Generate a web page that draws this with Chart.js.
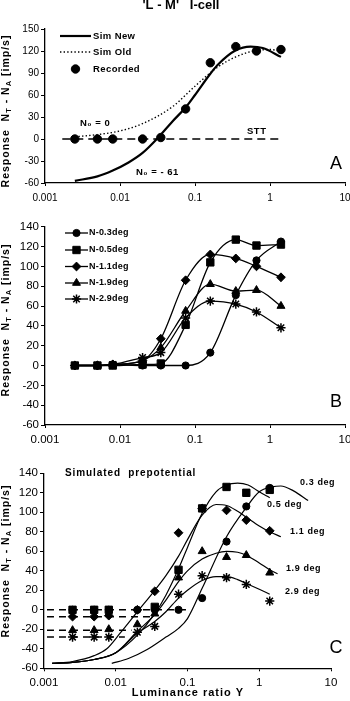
<!DOCTYPE html>
<html>
<head>
<meta charset="utf-8">
<script src="https://cdn.jsdelivr.net/npm/chart.js@4.4.0/dist/chart.umd.min.js"></script>
<style>
    html, body { margin: 0; padding: 0; background: #fff; width: 350px; height: 701px; overflow: hidden; position: relative; }
    canvas { position: absolute; left: 0; }
</style>
</head>
<body>
<canvas id="chartA"></canvas>
<canvas id="chartB"></canvas>
<canvas id="chartC"></canvas>
<script>
// luminance ratios used for the recorded points (all panels)
const lum = [0.0025, 0.005, 0.008, 0.02, 0.035, 0.075, 0.16, 0.35, 0.66, 1.4];
const xTicks = [0.001, 0.01, 0.1, 1, 10];
const xTickLabels = ['0.001', '0.01', '0.1', '1', '10'];
const yTicksA = [-60, -30, 0, 30, 60, 90, 120, 150];
const yTicksBC = [-60, -40, -20, 0, 20, 40, 60, 80, 100, 120, 140];

// panel A
const recordedA = [0, 0, 0, 0, 2, 41, 104, 126, 120, 122];
const simNewX = [0.0025, 0.005, 0.008, 0.013, 0.02, 0.031, 0.05, 0.075, 0.1, 0.16, 0.2, 0.35, 0.55, 0.8, 1.4];
const simNewY = [-57, -51, -43, -32, -19, 0, 24, 43, 60, 89, 101, 121, 126, 124, 112];
const simOldX = [0.0025, 0.005, 0.01, 0.02, 0.05, 0.1, 0.2, 0.35, 0.6, 1.0, 1.4];
const simOldY = [3, 6, 11, 21, 44, 72, 98, 112, 120, 122, 120];
const sttX = [0.0017, 1.4];
const sttY = [0, 0];

// panel B
const b03 = [0, 0, 1, 0, 0, 0, 13, 71, 106, 125];
const b05 = [0, 0, 0, 1, 2, 41, 104, 127, 121, 122];
const b11 = [0, 0, 1, 5, 27, 86, 112, 108, 100, 89];
const b19 = [0, 0, 1, 5, 18, 55, 82, 75, 76, 60];
const b29 = [0, 0, 1, 8, 13, 48, 65, 62, 54, 38];
const bLabels = ['N-0.3deg', 'N-0.5deg', 'N-1.1deg', 'N-1.9deg', 'N-2.9deg'];

// panel C: recorded points
const c03 = [0, 0, 0, 0, 0, 0, 12, 70, 106, 125];
const c05 = [0, 0, 0, null, 3, 41, 104, 126, 120, 123];
const c11 = [-7, -7, -6, 0, 19, 79, 104, 102, 92, 81];
const c19 = [-21, -21, -20, -15, -4, 33, 60, 54, 56, 38];
const c29 = [-28, -28, -28, -23, -17, 16, 35, 33, 26, 9];
// panel C: prepotential levels (dashed)
const prepLevels = [0, -7, -21, -28];
const prepStart = 0.0011;
const prepEnds = [0.1, 0.033, 0.0166, 0.0134];
// panel C: simulated curves
const simC03X = [0.0088, 0.015, 0.027, 0.05, 0.075, 0.1, 0.16, 0.35, 0.66, 1.0, 1.5, 2, 3, 4.8];
const simC03Y = [-55, -50, -41, -28, -19, -9, 22, 75, 105, 121, 126, 127, 122, 112];
const simC05X = [0.0013, 0.0025, 0.005, 0.01, 0.02, 0.035, 0.05, 0.075, 0.1, 0.16, 0.25, 0.35, 0.5, 0.7, 1.0, 1.4];
const simC05Y = [-55, -54, -51, -44, -26, -4, 15, 42, 64, 99, 121, 128, 130, 128, 121, 115];
const simC11X = [0.0013, 0.0025, 0.005, 0.0075, 0.0115, 0.02, 0.035, 0.05, 0.075, 0.1, 0.16, 0.25, 0.35, 0.5, 0.66, 1.0, 1.4, 2.0];
const simC11Y = [-55, -53, -47, -40, -24, -2, 20, 35, 55, 72, 97, 108, 107, 101, 95, 86, 80, 75];
const simC19X = [0.0013, 0.0025, 0.005, 0.01, 0.02, 0.035, 0.05, 0.075, 0.1, 0.16, 0.25, 0.35, 0.5, 0.66, 1.0, 1.4, 1.8];
const simC19Y = [-55, -54, -51, -44, -22, -5, 10, 29, 40, 52, 58, 60, 59, 56, 48, 41, 37];
const simC29X = [0.0013, 0.0025, 0.005, 0.01, 0.02, 0.035, 0.05, 0.075, 0.1, 0.16, 0.25, 0.35, 0.5, 0.66, 1.0, 1.4];
const simC29Y = [-55, -54, -51, -44, -24, -12, -2, 12, 20, 30, 34, 34, 31, 27, 21, 16];
const cLabels = ['0.3 deg', '0.5 deg', '1.1 deg', '1.9 deg', '2.9 deg'];

const FONT = '"Liberation Sans", Arial, sans-serif';

function pts(xs, ys) {
    return xs.map((x, i) => ({ x: x, y: ys[i] })).filter(p => p.y !== null);
}

function drawYTitle(ctx, cx, cy) {
    const big = 'bold 10.5px ' + FONT;
    const small = 'bold 7.5px ' + FONT;
    const parts = [['Response  N', big, 0], ['T', small, 2.5], [' - N', big, 0], ['A', small, 2.5], [' [imp/s]', big, 0]];
    ctx.save();
    ctx.translate(cx, cy);
    ctx.rotate(-Math.PI / 2);
    ctx.letterSpacing = '1px';
    ctx.fillStyle = '#000';
    ctx.textBaseline = 'middle';
    ctx.textAlign = 'left';
    let total = 0;
    parts.forEach(p => { ctx.font = p[1]; total += ctx.measureText(p[0]).width; });
    let x = -total / 2;
    parts.forEach(p => {
        ctx.font = p[1];
        ctx.fillText(p[0], x, p[2]);
        x += ctx.measureText(p[0]).width;
    });
    ctx.restore();
}

const panelText = {
    id: 'panelText',
    afterDraw(chart, args, opts) {
        const ctx = chart.ctx;
        ctx.save();
        ctx.fillStyle = '#000';
        ctx.strokeStyle = '#000';
        (opts.items || []).forEach(t => {
            ctx.font = t.font;
            ctx.letterSpacing = (t.spacing || 0) + 'px';
            ctx.textAlign = t.align || 'left';
            ctx.textBaseline = 'middle';
            ctx.fillText(t.text, t.x, t.y);
        });
        ctx.letterSpacing = '0px';
        if (opts.yTitle) drawYTitle(ctx, opts.yTitle.x, opts.yTitle.y);
        const lg = opts.legend;
        if (lg) {
            lg.items.forEach(it => {
                const ds = chart.data.datasets[it.ds];
                if (ds.showLine !== false) {
                    ctx.beginPath();
                    ctx.setLineDash(ds.borderDash || []);
                    ctx.lineWidth = ds.borderWidth;
                    ctx.moveTo(lg.x0, it.y);
                    ctx.lineTo(lg.x1, it.y);
                    ctx.stroke();
                    ctx.setLineDash([]);
                }
                if (ds.pointRadius > 0) {
                    ctx.lineWidth = ds.pointBorderWidth || 1;
                    Chart.helpers.drawPoint(ctx, {
                        pointStyle: ds.pointStyle || 'circle',
                        radius: ds.pointRadius,
                        rotation: 0,
                        borderWidth: ds.pointBorderWidth || 1
                    }, lg.mx, it.y);
                }
                ctx.font = lg.font;
                ctx.letterSpacing = (lg.spacing || 0) + 'px';
                ctx.textAlign = 'left';
                ctx.textBaseline = 'middle';
                ctx.fillText(ds.label, lg.tx, it.y);
                ctx.letterSpacing = '0px';
            });
        }
        ctx.restore();
    }
};

function baseOptions(p) {
    const axisFont = { family: FONT, size: p.tickSize };
    return {
        responsive: false,
        animation: false,
        events: [],
        layout: { padding: { left: 0, top: p.top, right: 370 - p.right, bottom: 0 } },
        plugins: {
            legend: { display: false },
            tooltip: { enabled: false },
            panelText: p.text
        },
        scales: {
            x: {
                type: 'logarithmic',
                min: xTicks[0],
                max: xTicks[xTicks.length - 1],
                afterBuildTicks: s => { s.ticks = xTicks.map(v => ({ value: v })); },
                afterFit: s => { s.height = p.xh; },
                ticks: {
                    callback: (v, i) => xTickLabels[i],
                    font: axisFont, color: '#000', padding: p.xPad,
                    maxRotation: 0, autoSkip: false
                },
                grid: { drawOnChartArea: false, tickLength: 3, color: '#000', lineWidth: 1 },
                border: { color: '#000', width: 1.3 }
            },
            y: {
                type: 'linear',
                min: p.yTicks[0],
                max: p.yTicks[p.yTicks.length - 1],
                afterBuildTicks: s => { s.ticks = p.yTicks.map(v => ({ value: v })); },
                afterFit: s => { s.width = p.left; },
                ticks: { font: axisFont, color: '#000', padding: 2 },
                grid: { drawOnChartArea: false, tickLength: 4, color: '#000', lineWidth: 1 },
                border: { color: '#000', width: 1.3 }
            }
        }
    };
}

function setupCanvas(id, top, height) {
    const c = document.getElementById(id);
    c.width = 370;
    c.height = height;
    c.style.width = '370px';
    c.style.height = height + 'px';
    c.style.top = top + 'px';
    return c.getContext('2d');
}

const BLACK = '#000';
function curve(label, xs, ys, width, dash) {
    return {
        label: label, data: pts(xs, ys), borderColor: BLACK, borderWidth: width,
        borderDash: dash || [], pointRadius: 0, tension: 0.4,
        cubicInterpolationMode: 'monotone', fill: false
    };
}
function marks(label, ys, style, r, line) {
    return {
        label: label, data: pts(lum, ys), borderColor: BLACK, borderWidth: 1.3,
        showLine: !!line, pointStyle: style, pointRadius: r,
        pointBackgroundColor: BLACK, pointBorderColor: BLACK,
        pointBorderWidth: style === 'star' ? 1.5 : 1,
        cubicInterpolationMode: 'monotone', fill: false
    };
}

// ---------- Panel A ----------
const topA = 0;
const ctxA = setupCanvas('chartA', topA, 210);
new Chart(ctxA, {
    type: 'line',
    data: {
        datasets: [
            curve('Sim New', simNewX, simNewY, 2.2),
            curve('Sim Old', simOldX, simOldY, 1.4, [1.4, 2.2]),
            marks('Recorded', recordedA, 'circle', 4.2, false),
            curve('STT', sttX, sttY, 1.6, [8, 5])
        ]
    },
    options: baseOptions({
        top: 29, left: 45, right: 345, xh: 27, xPad: 6, tickSize: 10, yTicks: yTicksA,
        text: {
            items: [
                { text: "'L - M'   I-cell", x: 181, y: 5, font: 'bold 13px ' + FONT, align: 'center' },
                { text: 'N\u2080 = 0', x: 80, y: 123, font: 'bold 9.5px ' + FONT, spacing: 0.5 },
                { text: 'STT', x: 247, y: 131, font: 'bold 9.5px ' + FONT, spacing: 0.5 },
                { text: 'N\u2080 = - 61', x: 136, y: 172, font: 'bold 9.5px ' + FONT, spacing: 0.5 },
                { text: 'A', x: 336, y: 164, font: '18px ' + FONT, align: 'center' }
            ],
            yTitle: { x: 6, y: 111 },
            legend: {
                x0: 60, x1: 91, mx: 75.5, tx: 93, font: 'bold 9.5px ' + FONT, spacing: 0.4,
                items: [{ ds: 0, y: 36 }, { ds: 1, y: 52 }, { ds: 2, y: 69 }]
            }
        }
    }),
    plugins: [panelText]
});

// ---------- Panel B ----------
const topB = 210;
const ctxB = setupCanvas('chartB', topB, 235);
const bLegendY = [233, 250, 266.5, 283, 299];
new Chart(ctxB, {
    type: 'line',
    data: {
        datasets: [
            marks(bLabels[0], b03, 'circle', 3.6, true),
            marks(bLabels[1], b05, 'rect', 5.2, true),
            marks(bLabels[2], b11, 'rectRot', 4.4, true),
            marks(bLabels[3], b19, 'triangle', 4.6, true),
            marks(bLabels[4], b29, 'star', 4.6, true)
        ]
    },
    options: baseOptions({
        top: 226.7 - topB, left: 45, right: 345, xh: 20, xPad: 5, tickSize: 11.5, yTicks: yTicksBC,
        text: {
            items: [
                { text: 'B', x: 336, y: 402 - topB, font: '18px ' + FONT, align: 'center' }
            ],
            yTitle: { x: 6, y: 320 - topB },
            legend: {
                x0: 65, x1: 88, mx: 76.5, tx: 89, font: 'bold 9px ' + FONT, spacing: 0.2,
                items: bLegendY.map((y, i) => ({ ds: i, y: y - topB }))
            }
        }
    }),
    plugins: [panelText]
});

// ---------- Panel C ----------
const topC = 445;
const ctxC = setupCanvas('chartC', topC, 256);
const cData = [c03, c05, c11, c19, c29];
const cStyles = [['circle', 3.6], ['rect', 5.2], ['rectRot', 4.4], ['triangle', 4.6], ['star', 4.6]];
const dsC = [];
prepLevels.forEach((lv, i) => {
    dsC.push(curve('prep', [prepStart, prepEnds[i]], [lv, lv], 1.5, [7, 5]));
});
dsC.push(curve(cLabels[0], simC03X, simC03Y, 1.2));
dsC.push(curve(cLabels[1], simC05X, simC05Y, 1.2));
dsC.push(curve(cLabels[2], simC11X, simC11Y, 1.2));
dsC.push(curve(cLabels[3], simC19X, simC19Y, 1.2));
dsC.push(curve(cLabels[4], simC29X, simC29Y, 1.2));
cData.forEach((d, i) => dsC.push(marks(cLabels[i], d, cStyles[i][0], cStyles[i][1], false)));
const labFont = 'bold 9px ' + FONT;
new Chart(ctxC, {
    type: 'line',
    data: { datasets: dsC },
    options: baseOptions({
        top: 473.3 - topC, left: 44, right: 331, xh: 701 - 668.3, xPad: 5, tickSize: 11.5, yTicks: yTicksBC,
        text: {
            items: [
                { text: 'Simulated  prepotential', x: 65, y: 473 - topC, font: 'bold 10px ' + FONT, spacing: 0.9 },
                { text: cLabels[0], x: 300, y: 483 - topC, font: labFont, spacing: 0.6 },
                { text: cLabels[1], x: 267, y: 505 - topC, font: labFont, spacing: 0.6 },
                { text: cLabels[2], x: 290, y: 531.5 - topC, font: labFont, spacing: 0.6 },
                { text: cLabels[3], x: 286, y: 569 - topC, font: labFont, spacing: 0.6 },
                { text: cLabels[4], x: 285, y: 592 - topC, font: labFont, spacing: 0.6 },
                { text: 'C', x: 336, y: 648.5 - topC, font: '18px ' + FONT, align: 'center' },
                { text: 'Luminance ratio Y', x: 188, y: 692.5 - topC, font: 'bold 11px ' + FONT, spacing: 1, align: 'center' }
            ],
            yTitle: { x: 6, y: 561 - topC }
        }
    }),
    plugins: [panelText]
});
</script>
</body>
</html>
